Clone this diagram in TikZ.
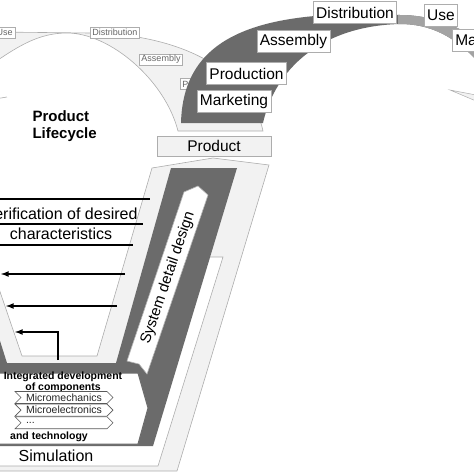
\documentclass[tikz,border=0pt]{standalone}
\usepackage{fontspec}
\setmainfont{Liberation Sans}
\usetikzlibrary{arrows,positioning,shapes.symbols}
\definecolor{darkband}{gray}{0.42}
\definecolor{midband}{gray}{0.64}
\definecolor{paleband}{gray}{0.95}
\definecolor{edgegray}{gray}{0.68}
\tikzset{
  bigbox/.style={draw=edgegray, line width=0.6pt, fill=white, font=\fontsize{15.5}{16}\selectfont, inner xsep=3pt, minimum height=22pt},
  smallbox/.style={draw=edgegray, line width=0.5pt, fill=white, text=gray!80!black, font=\fontsize{9}{9}\selectfont, inner xsep=2pt, inner ysep=1pt, minimum height=11pt},
  chev/.style={signal, signal to=east, signal from=west, draw=gray!70!black, line width=0.6pt, fill=white, text=gray!30!black, font=\fontsize{10.5}{10}\selectfont, minimum width=98pt, minimum height=12pt, inner ysep=0pt, inner xsep=1pt},
  vline/.style={line width=1.6pt},
  varrow/.style={line width=1.6pt, ->, >=latex}
}
\def\newarchpath{(181,123) .. controls (183,40) and (250,8) .. (400,15) .. controls (430,15) and (455,25) .. (480,40) -- (480,64) .. controls (455,36) and (430,24) .. (400,24) .. controls (320,26) and (275,70) .. (263,123) -- cycle}
\begin{document}
\begin{tikzpicture}[x=1pt, y=-1pt]
\useasboundingbox (0,0) rectangle (474,474);
\clip (0,0) rectangle (474,474);
% older lifecycle arch
\filldraw[fill=paleband, draw=edgegray, line width=0.6pt] (-5,62) .. controls (20,45) and (40,33) .. (67,33)
    .. controls (110,33) and (165,80) .. (178,131) -- (263,131)
    .. controls (250,70) and (180,34) .. (90,33) -- (-5,32) -- cycle;
\node[smallbox, anchor=east] (useold) at (15,32.5) {Use};
\node[smallbox] (distold) at (115,32.5) {Distribution};
\node[smallbox] (assold) at (161,59.5) {Assembly};
\node[smallbox, anchor=west] (prodold) at (180,84) {Production};
% current lifecycle arch
\fill[darkband] \newarchpath;
\begin{scope}
  \clip (398,-5) rectangle (480,140);
  \fill[midband] \newarchpath;
\end{scope}
\node[bigbox] (mkt) at (234,101.5) {Marketing};
\node[bigbox] (prod) at (246.5,73.5) {Production};
\node[bigbox] (ass) at (293.5,41) {Assembly};
\node[bigbox] (dist) at (355,12.5) {Distribution};
\node[bigbox] (use) at (441,15) {Use};
\node[bigbox, anchor=west] (maint) at (452,40) {Maintenance};
\node[font=\bfseries\fontsize{15}{17}\selectfont, align=left, anchor=west] (plc) at (29,126) {Product\\Lifecycle};
\node[draw=edgegray, line width=0.6pt, fill=paleband, minimum width=114pt, minimum height=20pt, font=\fontsize{15.5}{16}\selectfont] (product) at (214,146) {Product};
% V shape
\filldraw[fill=paleband, draw=edgegray, line width=0.6pt] (152,168) -- (213,158) -- (269,165) -- (177,471) -- (-5,471)
    -- (-5,277) -- (22,356) -- (97,356) -- cycle;
\filldraw[fill=white, draw=edgegray, line width=0.6pt] (205,257) -- (223,257) -- (158,466) -- (-5,466) -- (-5,440) -- (150,440) -- cycle;
\fill[darkband] (171,168) -- (237,168) -- (153,446) -- (-5,446) -- (-5,325) -- (7,363) -- (116,363) -- cycle;
% system design banner
\filldraw[fill=white, draw=gray!60, line width=0.6pt] (184,192) -- (198,186) -- (208,195) -- (147,374) -- (139,364) -- (127,361) -- cycle;
\node[rotate=71, font=\fontsize{15}{15}\selectfont] (sdd) at (168,278) {System detail design};
% integrated development
\filldraw[fill=white, draw=darkband, line width=1pt] (-5,373) -- (138,373) -- (148,408) -- (138,444) -- (-5,444) -- cycle;
\node[font=\bfseries\fontsize{10.5}{8.5}\selectfont, align=center] (intdev) at (63,382) {Integrated development\\of components};
\node[chev] (micromech) at (64,397.5) {Micromechanics};
\node[chev, below=0pt of micromech] (microel) {Microelectronics};
\node[chev, below=0pt of microel, text width=76pt, align=left] (more) {...};
\node[font=\bfseries\fontsize{10.5}{10}\selectfont] (andtech) at (49,437) {and technology};
\node[font=\fontsize{16}{16}\selectfont] (sim) at (56,456) {Simulation};
% verification
\node[font=\fontsize{16}{20}\selectfont, align=center] (verif) at (61,224) {Verification of desired\\characteristics};
\coordinate (l1w) at (-5,199); \coordinate (l1e) at (150,199);
\coordinate (l2w) at (-5,224); \coordinate (l2e) at (143,224);
\coordinate (l3w) at (-5,245); \coordinate (l3e) at (133,245);
\coordinate (a1w) at (1,274);  \coordinate (a1e) at (125,274);
\coordinate (a2w) at (6,306);  \coordinate (a2e) at (117,306);
\coordinate (a3w) at (15,332); \coordinate (a3s) at (58,360);
\draw[vline] (l1w) -- (l1e);
\draw[vline] (l2w) -- (l2e);
\draw[vline] (l3w) -- (l3e);
\draw[varrow] (a1e) -- (a1w);
\draw[varrow] (a2e) -- (a2w);
\draw[varrow] (a3s) |- (a3w);
% edge pieces of neighbouring drawings
\filldraw[fill=paleband, draw=edgegray, line width=0.5pt] (450,90) -- (476,95) -- (476,101) -- cycle;
\draw[edgegray, line width=0.6pt] (-5,99) -- (7,97);
\end{tikzpicture}
\end{document}
